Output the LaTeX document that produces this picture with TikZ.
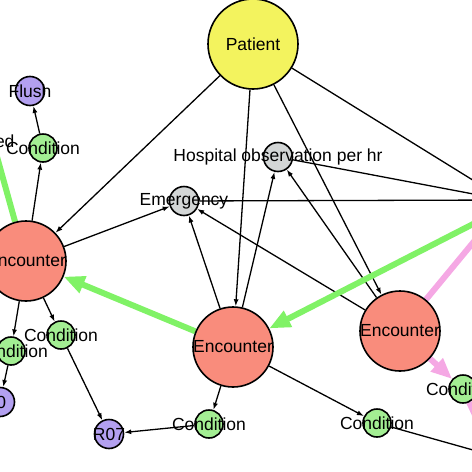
\documentclass[tikz,border=0pt]{standalone}
\usepackage{fontspec}
\setmainfont{Liberation Sans}
\usetikzlibrary{arrows.meta}
\definecolor{salmon}{HTML}{F98C7C}
\definecolor{mint}{HTML}{A3EE93}
\definecolor{lilac}{HTML}{B3A0F0}
\definecolor{ash}{HTML}{D3D6D6}
\definecolor{lemon}{HTML}{F3F35E}
\definecolor{lime}{HTML}{80F266}
\definecolor{candy}{HTML}{F5A8E4}
\pgfdeclarelayer{edges}
\pgfsetlayers{edges,main}
\tikzset{
x=1pt, y=-1pt, % one unit is one pixel of the screenshot, y runs down
->, % makes the edges directed
>={Latex[length=7pt,width=5pt]}, % small filled heads
every node/.style={font=\fontsize{17.5pt}{20pt}\selectfont}, % one size for all labels
item/.style={circle, draw, line width=1.6pt, inner sep=0pt}, % plain round item, text goes in a label
encounter/.style={item, fill=salmon, minimum size=80pt},
condition/.style={item, fill=mint, minimum size=28pt},
code/.style={item, fill=lilac, minimum size=29pt},
obs/.style={item, fill=ash, minimum size=29pt},
patient/.style={item, fill=lemon, minimum size=90pt},
link/.style={line width=1.3pt}, % thin black edge
flow/.style={line width=6pt, draw=lime, -{Triangle[length=21pt,width=17pt]}}, % fat green edge
pinkflow/.style={line width=6pt, draw=candy, -{Triangle[length=21pt,width=17pt]}}, % fat pink edge
}

\begin{document}
\begin{tikzpicture}
    \useasboundingbox (0,0) rectangle (472,472);
    \clip (0,0) rectangle (472,472);
    \node[patient, label=center:Patient] (patient) at (253,44) {};
    \node[code, label=center:Flush] (flush) at (30,91) {};
    \node[anchor=east] (edlabel) at (18,141) {Admitted};
    \node[condition, label=center:Condition] (condA) at (43,148) {};
    \node[encounter, label=center:Encounter] (encL) at (26,261) {};
    \node[obs, label=center:Emergency] (emerg) at (184,201) {};
    \node[obs, label=center:Hospital observation per hr] (hosp) at (278,157) {};
    \node[encounter, label=center:Encounter] (encM) at (233,347) {};
    \node[encounter, label=center:Encounter] (encR) at (400,331) {};
    \node[condition, label=center:Condition] (condB) at (61,335) {};
    \node[condition, label=center:Condition] (condC) at (11,351) {};
    \node[code, label={[xshift=-10pt]center:R10}] (rA) at (0,402) {};
    \node[code, label=center:R07] (r07) at (109,434) {};
    \node[condition, label=center:Condition] (condD) at (209,424) {};
    \node[condition, label=center:Condition] (condE) at (377,423) {};
    \node[condition, label=center:Condition] (condF) at (463,389) {};
    % ends that lie outside the frame
    \coordinate (offR) at (505,200);
    \coordinate (offB) at (505,459);
    \coordinate (offG) at (-16,110);
    \coordinate (offG2) at (520,200);
    \coordinate (offP) at (500,210);
    \coordinate (offP2) at (482,430);
    \begin{pgfonlayer}{edges}
    \draw[link]
    (patient) edge (encL)
    (patient) edge (encM)
    (patient) edge (encR)
    (patient) edge[-] (offR)
    (hosp) edge[-] (offR)
    (emerg) edge[-] (offR)
    (encL) edge (emerg)
    (encM) edge (emerg)
    (encR) edge (emerg)
    (encM) edge (hosp)
    (encR) edge (hosp)
    (encL) edge (condA)
    (condA) edge (flush)
    (encL) edge (condB)
    (encL) edge (condC)
    (condC) edge (rA)
    (condB) edge (r07)
    (condD) edge (r07)
    (encM) edge (condD)
    (encM) edge (condE)
    (condE) edge[-] (offB);
    \draw[flow] (encM) -- (encL);
    \draw[flow] (offG2) -- (encM);
    \draw[flow, -] (encL) -- (offG);
    \draw[pinkflow, -] (encR) -- (offP);
    \draw[pinkflow] (encR) -- (condF);
    \draw[pinkflow, -] (condF) -- (offP2);
    \end{pgfonlayer}
\end{tikzpicture}
\end{document}
